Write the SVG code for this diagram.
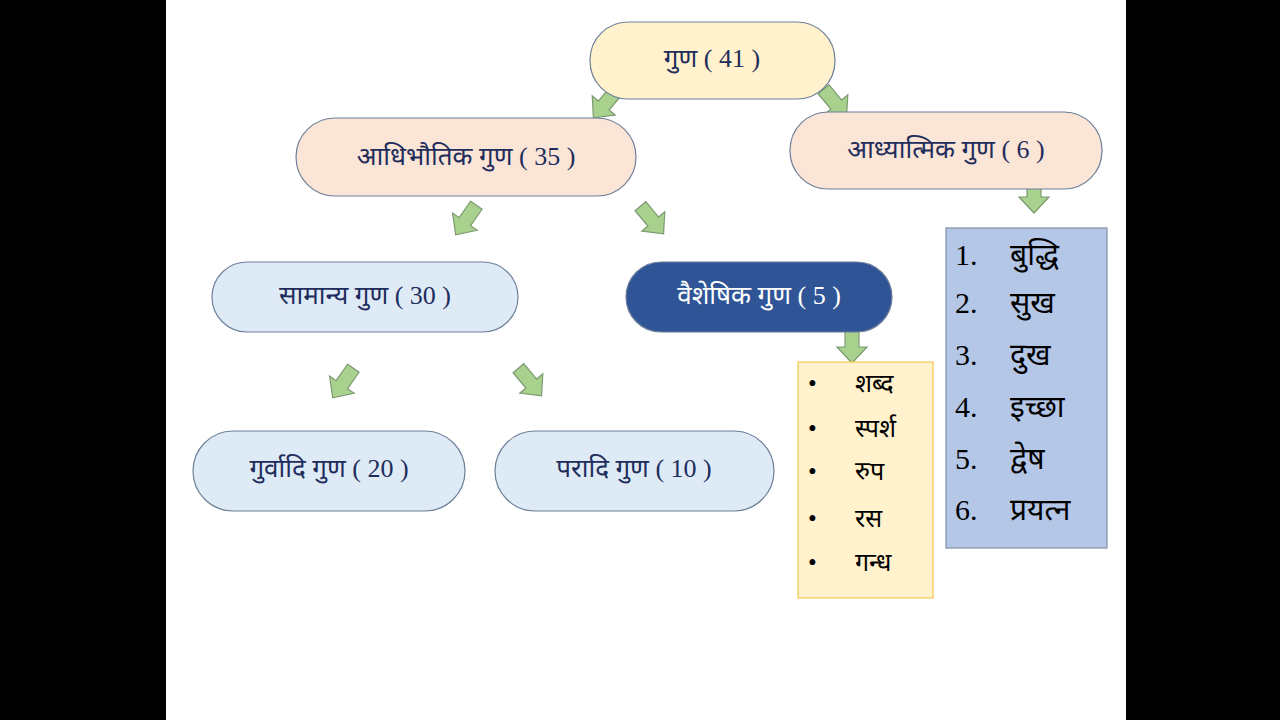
<svg xmlns="http://www.w3.org/2000/svg" width="1280" height="720" viewBox="0 0 1280 720">
<defs>
<style>
.n{stroke:#6d7f99;stroke-width:1.2}
.t{font-family:"Liberation Serif","Noto Sans",serif;font-size:26px;fill:#1f2d5c;text-anchor:middle;dominant-baseline:central}
.a{fill:#a9d18e;stroke:#7d9a70;stroke-width:1.2}
.l{font-family:"Liberation Serif","Noto Sans",serif;font-size:30px;fill:#000}
.b{font-family:"Liberation Serif","Noto Sans",serif;font-size:25px;fill:#000}
</style>
<path id="arr" d="M-7,-18 H7 V2 H15 L0,18 L-15,2 H-7 Z"/>
</defs>
<rect width="1280" height="720" fill="#fff"/>
<rect x="0" y="0" width="166" height="720" fill="#000"/>
<rect x="1126" y="0" width="154" height="720" fill="#000"/>
<g id="connectors">
<use href="#arr" class="a" transform="translate(605,104) rotate(40)"/>
<use href="#arr" class="a" transform="translate(835,103) rotate(-40)"/>
<use href="#arr" class="a" transform="translate(466,220) rotate(35)"/>
<use href="#arr" class="a" transform="translate(652,220) rotate(-40)"/>
<use href="#arr" class="a" transform="translate(1034,195)"/>
<use href="#arr" class="a" transform="translate(852,345)"/>
<use href="#arr" class="a" transform="translate(343,383) rotate(35)"/>
<use href="#arr" class="a" transform="translate(530,382) rotate(-40)"/>
</g>
<g id="root"><rect class="n" x="590" y="22" width="245" height="77" rx="38" fill="#fff2cc"/><text class="t" x="712" y="58">गुण ( 41 )</text></g>
<g id="adhibhautik"><rect class="n" x="296" y="118" width="340" height="78" rx="39" fill="#fbe5d6"/><text class="t" x="466" y="156">आधिभौतिक गुण ( 35 )</text></g>
<g id="adhyatmik"><rect class="n" x="790" y="112" width="312" height="77" rx="38" fill="#fbe5d6"/><text class="t" x="946" y="149">आध्यात्मिक गुण ( 6 )</text></g>
<g id="samanya"><rect class="n" x="212" y="262" width="306" height="70" rx="35" fill="#deebf7"/><text class="t" x="365" y="295">सामान्य गुण ( 30 )</text></g>
<g id="vaisheshik"><rect class="n" x="626" y="262" width="266" height="70" rx="35" fill="#2f5597"/><text class="t" x="759" y="295" style="fill:#fff">वैशेषिक गुण ( 5 )</text></g>
<g id="gurvadi"><rect class="n" x="193" y="431" width="272" height="80" rx="40" fill="#deebf7"/><text class="t" x="329" y="468">गुर्वादि गुण ( 20 )</text></g>
<g id="paradi"><rect class="n" x="495" y="431" width="279" height="80" rx="40" fill="#deebf7"/><text class="t" x="634" y="468">परादि गुण ( 10 )</text></g>
<g id="vaisheshik-list">
<rect x="798" y="362" width="135" height="236" fill="#fff2cc" stroke="#f2c94c" stroke-width="1.2"/>
<g class="b">
<text x="808" y="392">•</text><text x="855" y="392">शब्द</text>
<text x="808" y="437">•</text><text x="855" y="437">स्पर्श</text>
<text x="808" y="480">•</text><text x="855" y="480">रुप</text>
<text x="808" y="527">•</text><text x="855" y="527">रस</text>
<text x="808" y="571">•</text><text x="855" y="571">गन्ध</text>
</g>
</g>
<g id="adhyatmik-list">
<rect x="946" y="228" width="161" height="320" fill="#b4c7e7" stroke="#7f8fa9" stroke-width="1.2"/>
<g class="l">
<text x="955" y="265">1.</text><text x="1010" y="265">बुद्धि</text>
<text x="955" y="313">2.</text><text x="1010" y="313">सुख</text>
<text x="955" y="365">3.</text><text x="1010" y="365">दुख</text>
<text x="955" y="417">4.</text><text x="1010" y="417">इच्छा</text>
<text x="955" y="469">5.</text><text x="1010" y="469">द्वेष</text>
<text x="955" y="520">6.</text><text x="1010" y="520">प्रयत्न</text>
</g>
</g>
</svg>
